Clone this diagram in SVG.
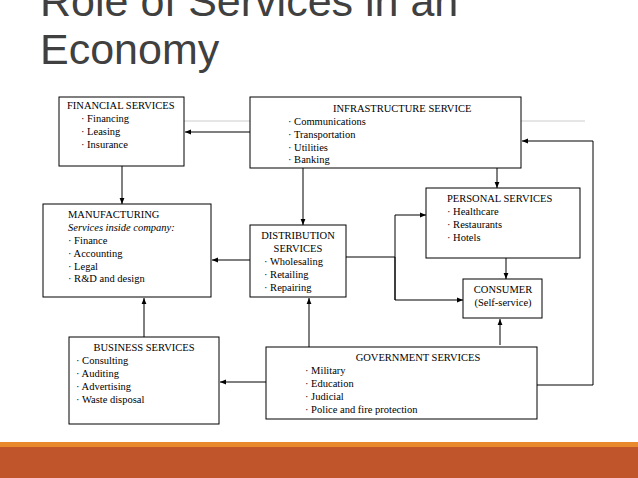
<svg xmlns="http://www.w3.org/2000/svg" width="638" height="478" viewBox="0 0 638 478">
<style>
.b{fill:#fff;stroke:#000;stroke-width:1}
.t{font-family:"Liberation Serif",serif;font-size:10.5px;fill:#000}
.c{stroke:#000;stroke-width:1;fill:none}
.ttl{font-family:"Liberation Sans",sans-serif;font-size:43px;fill:#404040}
</style>
<defs><marker id="a" viewBox="0 0 10 10" refX="10" refY="5" markerWidth="6" markerHeight="6" orient="auto"><path d="M0,1 L10,5 L0,9z" fill="#000"/></marker></defs>
<rect width="638" height="478" fill="#fff"/>
<text class="ttl" x="40" y="16">Role of Services in an</text>
<text class="ttl" x="40" y="64">Economy</text>
<rect x="0" y="442" width="638" height="5" fill="#e8892e"/>
<rect x="0" y="447" width="638" height="31" fill="#c0552b"/>
<g stroke="#ccc" stroke-width="1"><line x1="184" y1="121" x2="250" y2="121"/><line x1="521" y1="121" x2="585" y2="121"/></g>
<g id="financial"><rect class="b" x="59" y="97" width="125" height="69"/>
<text class="t" x="67" y="109">FINANCIAL SERVICES</text><text class="t" x="81" y="122">· Financing</text><text class="t" x="81" y="135">· Leasing</text><text class="t" x="81" y="148">· Insurance</text></g>
<g id="infrastructure"><rect class="b" x="250" y="97" width="271" height="71"/>
<text class="t" x="333" y="112">INFRASTRUCTURE SERVICE</text><text class="t" x="288" y="125">· Communications</text><text class="t" x="288" y="138">· Transportation</text><text class="t" x="288" y="151">· Utilities</text><text class="t" x="288" y="163">· Banking</text></g>
<g id="personal"><rect class="b" x="426" y="188" width="154" height="70"/>
<text class="t" x="447" y="202">PERSONAL SERVICES</text><text class="t" x="447" y="215">· Healthcare</text><text class="t" x="447" y="228">· Restaurants</text><text class="t" x="447" y="241">· Hotels</text></g>
<g id="manufacturing"><rect class="b" x="43" y="204" width="168" height="93"/>
<text class="t" x="68" y="218">MANUFACTURING</text><text class="t" x="68" y="231" font-style="italic">Services inside company:</text><text class="t" x="68" y="244">· Finance</text><text class="t" x="68" y="257">· Accounting</text><text class="t" x="68" y="270">· Legal</text><text class="t" x="68" y="282">· R&amp;D and design</text></g>
<g id="distribution"><rect class="b" x="250" y="225" width="96" height="72"/>
<text class="t" x="298" y="239" text-anchor="middle">DISTRIBUTION</text><text class="t" x="298" y="252" text-anchor="middle">SERVICES</text><text class="t" x="264" y="265">· Wholesaling</text><text class="t" x="264" y="278">· Retailing</text><text class="t" x="264" y="291">· Repairing</text></g>
<g id="consumer"><rect class="b" x="463" y="279" width="79" height="39"/>
<text class="t" x="503" y="293" text-anchor="middle">CONSUMER</text><text class="t" x="503" y="306" text-anchor="middle">(Self-service)</text></g>
<g id="business"><rect class="b" x="69" y="337" width="150" height="87"/>
<text class="t" x="144" y="351" text-anchor="middle">BUSINESS SERVICES</text><text class="t" x="76" y="364">· Consulting</text><text class="t" x="76" y="377">· Auditing</text><text class="t" x="76" y="390">· Advertising</text><text class="t" x="76" y="403">· Waste disposal</text></g>
<g id="government"><rect class="b" x="266" y="347" width="271" height="72"/>
<text class="t" x="418" y="361" text-anchor="middle">GOVERNMENT SERVICES</text><text class="t" x="305" y="374">· Military</text><text class="t" x="305" y="387">· Education</text><text class="t" x="305" y="400">· Judicial</text><text class="t" x="305" y="413">· Police and fire protection</text></g>
<g id="connectors">
<line class="c" x1="250" y1="132" x2="185" y2="132" marker-end="url(#a)"/>
<line class="c" x1="122" y1="166" x2="122" y2="204" marker-end="url(#a)"/>
<line class="c" x1="303" y1="168" x2="303" y2="225" marker-end="url(#a)"/>
<line class="c" x1="497" y1="168" x2="497" y2="188" marker-end="url(#a)"/>
<line class="c" x1="250" y1="260" x2="212" y2="260" marker-end="url(#a)"/>
<polyline class="c" points="346,257 395,257"/>
<polyline class="c" points="395,300 395,215 426,215" marker-end="url(#a)"/>
<polyline class="c" points="395,257 395,300 463,300" marker-end="url(#a)"/>
<line class="c" x1="506" y1="258" x2="506" y2="279" marker-end="url(#a)"/>
<line class="c" x1="500" y1="345" x2="500" y2="319" marker-end="url(#a)"/>
<line class="c" x1="309" y1="347" x2="309" y2="298" marker-end="url(#a)"/>
<line class="c" x1="266" y1="382" x2="220" y2="382" marker-end="url(#a)"/>
<polyline class="c" points="537,385 593,385 593,141 522,141" marker-end="url(#a)"/>
<line class="c" x1="144" y1="337" x2="144" y2="298" marker-end="url(#a)"/>
</g>
</svg>
